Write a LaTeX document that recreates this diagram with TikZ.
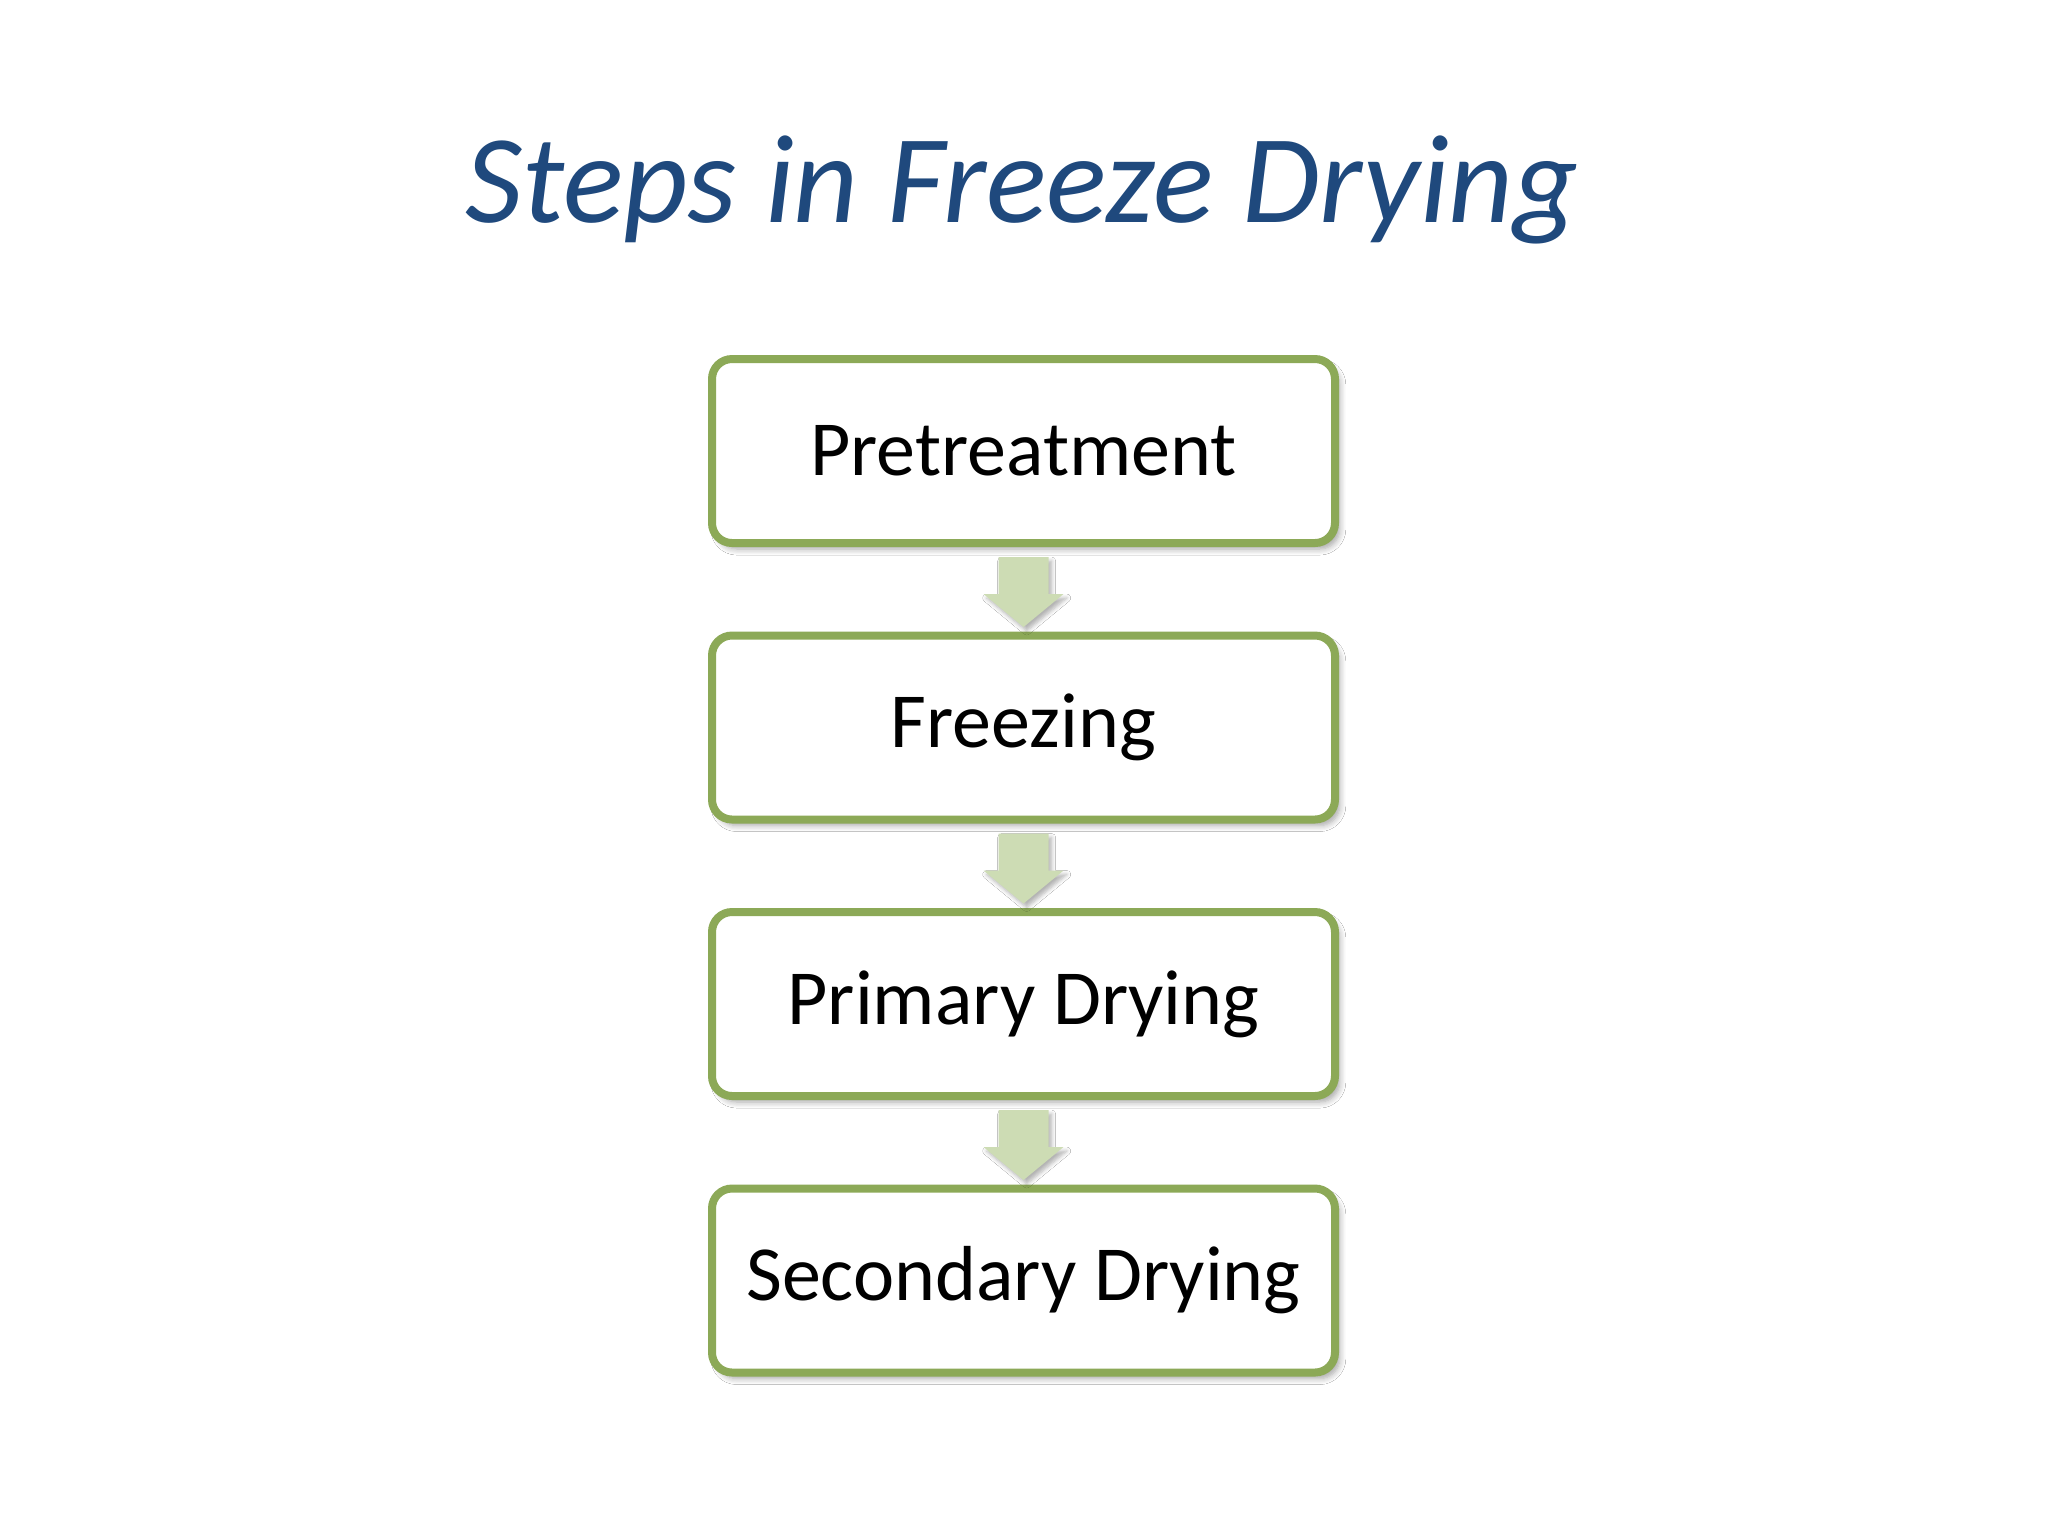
\documentclass[tikz,border=0pt]{standalone}
\usepackage{fontspec}
\setmainfont{Carlito}
\usetikzlibrary{calc,shadows.blur}
\definecolor{titleblue}{HTML}{1F497D}
\definecolor{boxgreen}{HTML}{8CA957}
\definecolor{arrowgreen}{HTML}{CDDCB4}
\tikzset{
  stepbox/.style={draw=boxgreen, line width=2pt, fill=white, rounded corners=5pt,
    minimum width=155.75pt, minimum height=46pt, inner sep=0pt,
    font=\fontsize{19.5}{23}\selectfont, text=black,
    blur shadow={shadow xshift=1.2pt, shadow yshift=-1.5pt, shadow blur steps=6, shadow opacity=35, shadow blur radius=1.5pt}},
  flowarrow/.style={fill=arrowgreen, draw=none,
    blur shadow={shadow xshift=0.8pt, shadow yshift=-1pt, shadow blur steps=5, shadow opacity=30, shadow blur radius=1pt}},
  titletext/.style={font=\fontsize{31.5}{38}\selectfont\itshape, text=titleblue, anchor=base}
}
\begin{document}
\begin{tikzpicture}[x=0.25pt,y=-0.25pt]
\fill[white] (0,0) rectangle (2048,1536);
\useasboundingbox (0,0) rectangle (2048,1536);
\node[titletext] (title) at (1022,222) {Steps in Freeze Drying};
\node[stepbox] (b1) at (1023.5,451) {Pretreatment};
\node[stepbox] (b2) at (1023.5,727.5) {Freezing};
\node[stepbox] (b3) at (1023.5,1004) {Primary Drying};
\node[stepbox] (b4) at (1023.5,1280.5) {Secondary Drying};
\foreach \a/\b in {b1/b2,b2/b3,b3/b4}{
  \path[flowarrow] ($(\a.south)+(-25,10)$) -- ($(\a.south)+(25,10)$) -- ($(\a.south)+(25,47)$)
    -- ($(\a.south)+(40,47)$) -- ($(\a.south)+(0,80)$) -- ($(\a.south)+(-40,47)$)
    -- ($(\a.south)+(-25,47)$) -- cycle;
}
\end{tikzpicture}
\end{document}
